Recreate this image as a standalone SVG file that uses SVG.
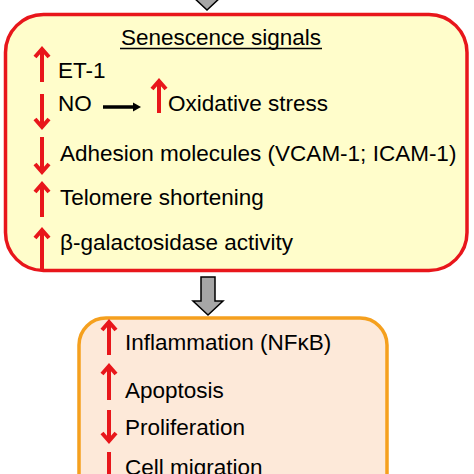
<svg xmlns="http://www.w3.org/2000/svg" width="474" height="474" viewBox="0 0 474 474">
<style>
.t{font-family:"Liberation Sans",Arial,Helvetica,sans-serif;font-size:22.5px;fill:#000}
.ra{fill:none;stroke:#e8161b;stroke-width:4;stroke-linecap:butt;stroke-linejoin:miter}
.ga{fill:#a6a6a6;stroke:#000;stroke-width:1.5;stroke-linejoin:miter}
</style>
<rect width="474" height="474" fill="#ffffff"/>
<g id="connectors">
<path class="ga" d="M201,-20 H213 V-4 H222 L207,10 L192,-4 H201 Z"/>
<path class="ga" d="M201,277 H215 V301 H223 L208,315 L193,301 H201 Z"/>
</g>
<g id="senescence">
<rect x="5.5" y="14.5" width="461.5" height="256" rx="38" ry="38" fill="#fffdcb" stroke="#e8161b" stroke-width="3.5"/>
<text class="t" x="221" y="45" text-anchor="middle">Senescence signals</text>
<line x1="120" y1="48.5" x2="322" y2="48.5" stroke="#000" stroke-width="1.3"/>
<path class="ra" d="M42,49 V82 M35,57 L42,49 L49,57"/>
<text class="t" x="58" y="78">ET-1</text>
<path class="ra" d="M42,94 V127 M35,119 L42,127 L49,119"/>
<text class="t" x="58" y="111">NO</text>
<line x1="103" y1="107" x2="134" y2="107" stroke="#000" stroke-width="3.5"/>
<path d="M133,102.5 L141,107 L133,111.5 Z" fill="#000"/>
<path class="ra" d="M159,81 V113 M152,89 L159,81 L166,89"/>
<text class="t" x="168" y="111">Oxidative stress</text>
<path class="ra" d="M42,137 V172 M35,164 L42,172 L49,164"/>
<text class="t" x="60" y="161">Adhesion molecules (VCAM-1; ICAM-1)</text>
<path class="ra" d="M42,184 V217 M35,192 L42,184 L49,192"/>
<text class="t" x="60" y="205">Telomere shortening</text>
<path class="ra" d="M42,230 V270 M35,238 L42,230 L49,238"/>
<text class="t" x="60" y="250">β-galactosidase activity</text>
</g>
<g id="effects">
<rect x="79" y="318" width="308" height="200" rx="27" ry="27" fill="#fde9d9" stroke="#f5a01e" stroke-width="3.5"/>
<path class="ra" d="M109,322 V355 M102,330 L109,322 L116,330"/>
<text class="t" x="125" y="350">Inflammation (NFκB)</text>
<path class="ra" d="M109,366 V400 M102,374 L109,366 L116,374"/>
<text class="t" x="125" y="398">Apoptosis</text>
<path class="ra" d="M109,410 V441 M102,433 L109,441 L116,433"/>
<text class="t" x="125" y="435">Proliferation</text>
<path class="ra" d="M109,452 V484 M102,476 L109,484 L116,476"/>
<text class="t" x="125" y="475">Cell migration</text>
</g>
</svg>
